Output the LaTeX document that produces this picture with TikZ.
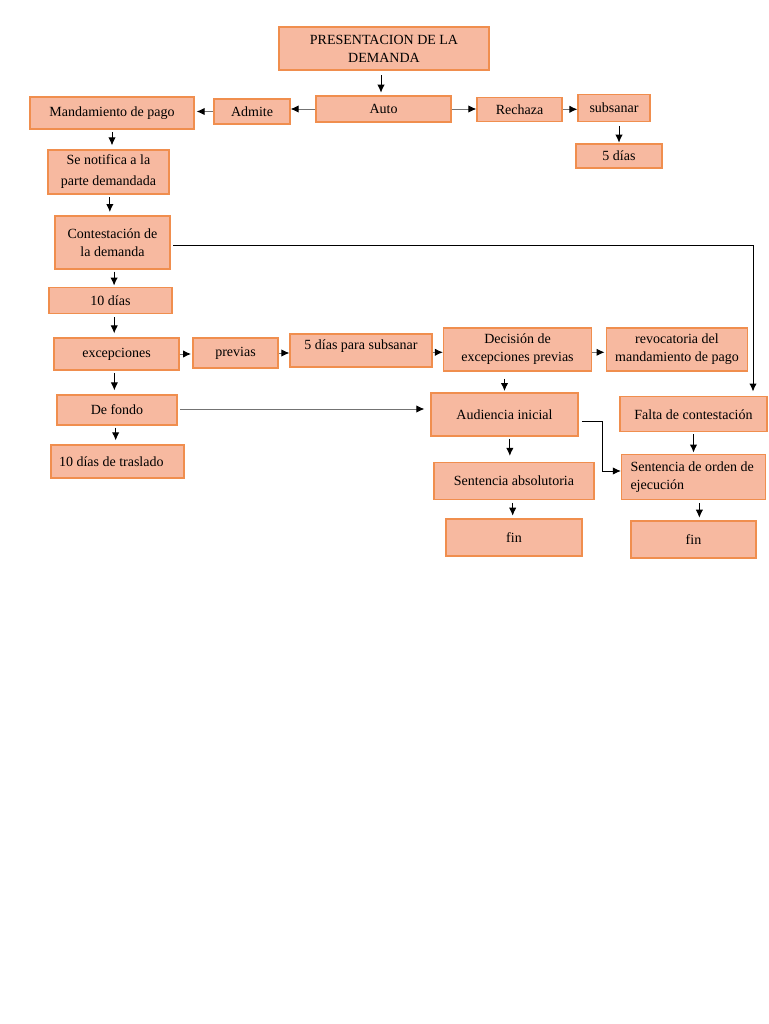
\documentclass[tikz,border=0pt]{standalone}
\usepackage{fontspec}
\setmainfont{Liberation Serif}
\usetikzlibrary{arrows.meta}
\definecolor{boxfill}{HTML}{F7B9A0}
\definecolor{boxline}{HTML}{F08E4E}
\begin{document}
\begin{tikzpicture}[x=0.75pt,y=-0.75pt,
 box/.style={draw=boxline, fill=boxfill, line width=0.9pt, inner sep=0pt, align=center, font=\fontsize{10.5}{13.5}\selectfont},
 arr/.style={draw=black, line width=0.75pt, -{Latex[length=6pt,width=5.5pt]}},
 garr/.style={draw=black!55, line width=0.75pt, -{Latex[length=6pt,width=5.5pt,color=black]}},
]
\useasboundingbox (0,0) rectangle (768,1024);
\fill[white] (0,0) rectangle (768,1024);

% boxes
\node[box, minimum width=157.5pt, minimum height=32.25pt] (pres) at (384,48.5) {PRESENTACION DE LA\\DEMANDA};
\node[box, minimum width=101.25pt, minimum height=19.5pt] (auto) at (383.5,109) {Auto};
\node[box, minimum width=57pt, minimum height=18.75pt] (admite) at (252,111.5) {Admite};
\node[box, minimum width=123pt, minimum height=24pt] (mand) at (112,113) {Mandamiento de pago};
\node[box, minimum width=63.75pt, minimum height=18pt] (rechaza) at (519.5,109.3) {Rechaza};
\node[box, minimum width=54pt, minimum height=20.25pt] (subsanar) at (614,107.8) {subsanar};
\node[box, minimum width=64.5pt, minimum height=18pt] (cinco) at (619,156) {5 días};
\node[box, minimum width=90.75pt, minimum height=33pt] (notif) at (108.5,172) {Se notifica a la\\[2.25pt]parte demandada};
\node[box, minimum width=86.25pt, minimum height=39.75pt] (cont) at (112.5,242.5) {Contestación de\\la demanda};
\node[box, minimum width=92.25pt, minimum height=19.5pt] (diez) at (110.5,300.5) {10 días};
\node[box, minimum width=93.75pt, minimum height=24pt] (exc) at (116.5,354) {excepciones};
\node[box, minimum width=63.75pt, minimum height=22.5pt] (previas) at (235.5,353) {previas};
\node[box, minimum width=106.5pt, minimum height=24.75pt] (cincosub) at (361,350.5) {\raisebox{3.4pt}[\height][\depth]{5 días para subsanar}};
\node[box, minimum width=111pt, minimum height=32.25pt] (decision) at (517.5,349.5) {Decisión de\\excepciones previas};
\node[box, minimum width=105.75pt, minimum height=32.25pt] (revoc) at (677,349.5) {revocatoria del\\mandamiento de pago};
\node[box, minimum width=90pt, minimum height=22.5pt] (fondo) at (117,410) {De fondo};
\node[box, minimum width=99.75pt, minimum height=24.75pt, text width=87.75pt, align=flush left] (tras) at (117.5,461.5) {10 días de traslado};
\node[box, minimum width=110.25pt, minimum height=32.25pt] (aud) at (504.5,414.5) {Audiencia inicial};
\node[box, minimum width=110.25pt, minimum height=26.25pt] (falta) at (693.5,414.3) {Falta de contestación};
\node[box, minimum width=120pt, minimum height=27.75pt] (sabs) at (514,481) {Sentencia absolutoria};
\node[box, minimum width=108pt, minimum height=33.75pt, text width=94.5pt, align=flush left] (sord) at (693.5,477) {Sentencia de orden de\\ejecución};
\node[box, minimum width=102pt, minimum height=27.75pt] (fin1) at (514,537.5) {fin};
\node[box, minimum width=93.75pt, minimum height=27.75pt] (fin2) at (693.5,539.5) {fin};

% helper coordinates
\coordinate (c1) at (753,245);
\coordinate (e1) at (602,421.5);
\coordinate (e2) at (602,471);
\coordinate (p1) at (381,0);

% top connectors
\draw[arr, shorten <=3.5pt, shorten >=2pt] (pres.south -| p1) -- (auto.north -| p1);
\draw[garr] (auto.west) -- (auto.west -| admite.east);
\draw[garr, shorten >=1.5pt] (admite.west) -- (admite.west -| mand.east);
\draw[garr] (auto.east) -- (auto.east -| rechaza.west);
\draw[garr] (rechaza.east) -- (rechaza.east -| subsanar.west);
\draw[arr, shorten <=3pt, shorten >=0.5pt] (subsanar.south -| cinco.north) -- (cinco.north);

% left column
\draw[arr, shorten <=2pt, shorten >=3pt] (mand.south) -- (mand.south |- notif.north);
\draw[arr, shorten <=2pt, shorten >=2.5pt] ([xshift=1pt]notif.south) -- ([xshift=1pt]notif.south |- cont.north);
\draw[arr, shorten <=1.5pt, shorten >=1pt] ([xshift=1.2pt]cont.south) -- ([xshift=1.2pt]cont.south |- diez.north);
\draw[arr, shorten <=2.5pt, shorten >=3pt] ([xshift=2.8pt]diez.south) -- ([xshift=2.8pt]diez.south |- exc.north);
\draw[arr, shorten <=2pt, shorten >=3pt] ([xshift=-1.6pt]exc.south) -- ([xshift=-1.6pt]exc.south |- fondo.north);
\draw[arr, shorten <=1.5pt, shorten >=3pt] ([xshift=-1pt]fondo.south) -- ([xshift=-1pt]fondo.south |- tras.north);

% long connector from Contestación to Falta de contestación
\draw[arr, shorten <=2pt, shorten >=3.5pt] (cont.east |- c1) -- (c1) -- (c1 |- falta.north);

% exceptions row
\draw[garr, shorten >=1pt] (exc.east) -- (exc.east -| previas.west);
\draw[garr] (previas.east) -- (previas.east -| cincosub.west);
\draw[garr] (cincosub.east |- 0,352.3) -- (decision.west |- 0,352.3);
\draw[garr, shorten >=1pt] (decision.east |- 0,352.3) -- (revoc.west |- 0,352.3);

% De fondo to Audiencia inicial
\draw[garr, shorten <=2pt, shorten >=4.5pt] (fondo.east |- 0,409) -- (aud.west |- 0,409);

% right part
\draw[arr, shorten <=5.5pt, shorten >=1pt] (decision.south -| aud.north) -- (aud.north);
\draw[arr, shorten <=1.5pt, shorten >=4.5pt] ([xshift=4pt]aud.south) -- ([xshift=4pt]aud.south |- sabs.north);
\draw[arr, shorten <=2.5pt] (aud.east |- e1) -- (e1) -- (e2) -- (e2 -| sord.west);
\draw[arr, shorten <=1.5pt, shorten >=1pt] (falta.south) -- (falta.south |- sord.north);
\draw[arr, shorten <=2pt, shorten >=2pt] ([xshift=-1pt]sabs.south) -- ([xshift=-1pt]sabs.south |- fin1.north);
\draw[arr, shorten <=2.5pt, shorten >=2pt] ([xshift=4.4pt]sord.south) -- ([xshift=4.4pt]sord.south |- fin2.north);
\end{tikzpicture}
\end{document}
